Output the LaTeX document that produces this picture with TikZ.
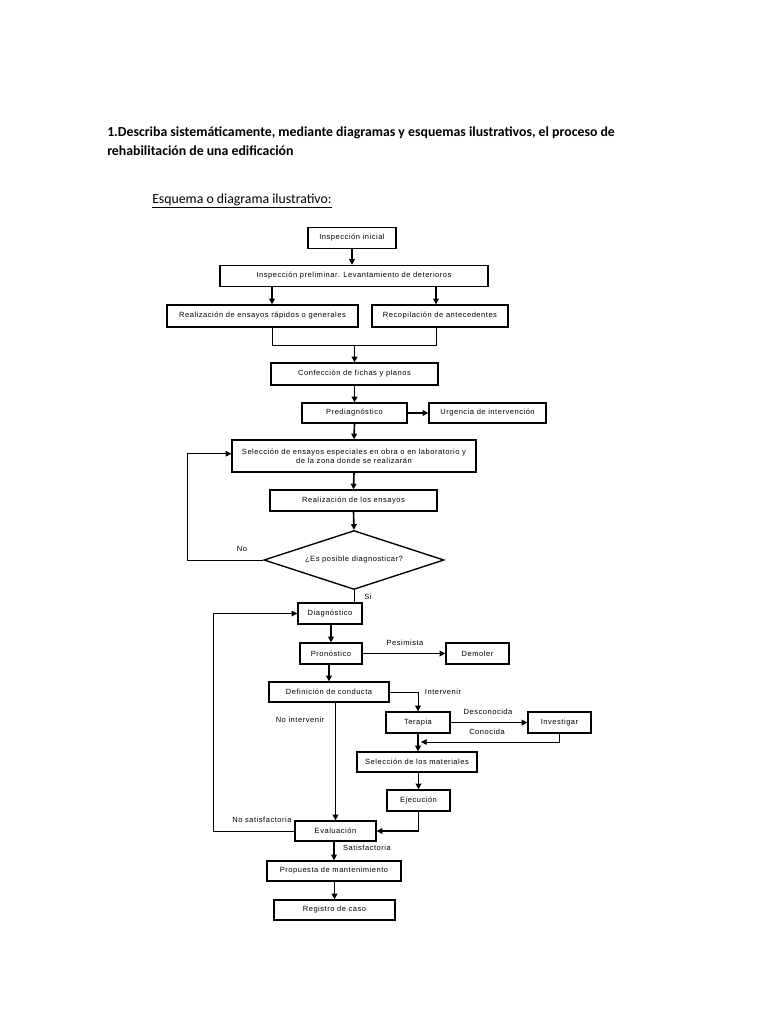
\documentclass[tikz,border=0pt]{standalone}
\usepackage{fontspec}
\setmainfont{Carlito}
\newfontfamily\arialfont[LetterSpace=7]{Liberation Sans}
\usepackage{tikz}
\usetikzlibrary{shapes.geometric,arrows.meta}

\begin{document}
\begin{tikzpicture}[x=0.797pt, y=-0.797pt,
	box/.style={draw, line width=1.1pt, inner sep=0, font=\arialfont\fontsize{6}{7.4}\selectfont},
	lbl/.style={inner sep=0, font=\arialfont\fontsize{6}{7.4}\selectfont},
	arr/.style={line width=1.3pt, -{Triangle[length=4.5pt, width=4.5pt]}},
	arrthin/.style={line width=0.6pt, -{Triangle[length=4.5pt, width=4.5pt]}},
	wire/.style={line width=0.6pt}]
	\useasboundingbox (0,0) rectangle (768,1024);
	% Texts above the chart:
	\node[anchor=base west, inner sep=0, font=\fontsize{11}{13}\selectfont\bfseries] (Title1) at (107,136) {1.Describa sistemáticamente, mediante diagramas y esquemas ilustrativos, el proceso de};
	\node[anchor=base west, inner sep=0, font=\fontsize{11}{13}\selectfont\bfseries] (Title2) at (107,155) {rehabilitación de una edificación};
	\node[anchor=base west, inner sep=0, font=\fontsize{11}{13}\selectfont] (Sub1) at (152,203) {\underline{Esquema o diagrama ilustrativo:}};
	% Boxes:
	\node[box, minimum width=70.1pt, minimum height=16.7pt] (Box1) at (352,238) {Inspección inicial};
	\node[box, minimum width=213.6pt, minimum height=16.7pt] (Box2) at (354,276) {Inspección preliminar. Levantamiento de deterioros};
	\node[box, minimum width=152.2pt, minimum height=17.5pt] (Box3) at (262.5,316) {Realización de ensayos rápidos o generales};
	\node[box, minimum width=108.4pt, minimum height=17.5pt] (Box4) at (440,316) {Recopilación de antecedentes};
	\node[box, minimum width=133.1pt, minimum height=17.5pt] (Box5) at (354.5,374) {Confección de fichas y planos};
	\node[box, minimum width=83.7pt, minimum height=15.9pt] (Box6) at (354.5,413) {Prediagnóstico};
	\node[box, minimum width=93.2pt, minimum height=15.9pt] (Box7) at (487.5,413) {Urgencia de intervención};
	\node[box, minimum width=194.5pt, minimum height=25.5pt, align=center] (Box8) at (354,456) {Selección de ensayos especiales en obra o en laboratorio y\\de la zona donde se realizarán};
	\node[box, minimum width=133.1pt, minimum height=16.7pt] (Box9) at (353.5,500.5) {Realización de los ensayos};
	\node[box, shape=diamond, aspect=3, minimum width=143.5pt, minimum height=47pt] (Dia1) at (354,560) {¿Es posible diagnosticar?};
	\node[box, minimum width=51pt, minimum height=16.7pt] (Box11) at (330,613.5) {Diagnóstico};
	\node[box, minimum width=49.4pt, minimum height=16.7pt] (Box12) at (331,653.5) {Pronóstico};
	\node[box, minimum width=50.2pt, minimum height=16.7pt] (Box13) at (477.5,653.5) {Demoler};
	\node[box, minimum width=95.6pt, minimum height=15.9pt] (Box14) at (329,692) {Definición de conducta};
	\node[box, minimum width=51pt, minimum height=16.7pt] (Box15) at (418,722.5) {Terapia};
	\node[box, minimum width=50.2pt, minimum height=16.7pt] (Box16) at (559.5,722.5) {Investigar};
	\node[box, minimum width=95.6pt, minimum height=15.9pt] (Box17) at (417,762) {Selección de los materiales};
	\node[box, minimum width=50.2pt, minimum height=16.7pt] (Box18) at (418.5,800.5) {Ejecución};
	\node[box, minimum width=64.6pt, minimum height=15.9pt] (Box19) at (335.5,831) {Evaluación};
	\node[box, minimum width=106.8pt, minimum height=15.9pt] (Box20) at (334,871) {Propuesta de mantenimiento};
	\node[box, minimum width=96.4pt, minimum height=15.9pt] (Box21) at (334.5,910) {Registro de caso};
	% Corner points:
	\coordinate (M1) at (272,345);
	\coordinate (M2) at (436,345);
	\coordinate (L1) at (187,560);
	\coordinate (L2) at (213,831);
	\coordinate (C1) at (421,742);
	% Connectors:
	\draw[arr] (Box1.south) -- (Box1.south |- Box2.north);
	\draw[arr] (Box2.south -| M1) -- (Box3.north -| M1);
	\draw[arr] (Box2.south -| M2) -- (Box4.north -| M2);
	\draw[wire] (Box3.south -| M1) -- (M1) -- (M2) -- (Box4.south -| M2);
	\draw[arr] (Box5.north |- M1) -- (Box5.north);
	\draw[arr] (Box5.south) -- (Box6.north);
	\draw[arr] (Box6.east) -- (Box7.west);
	\draw[arr] (Box6.south) -- (Box8.north);
	\draw[arr] (Box8.south) -- (Box9.north);
	\draw[arr] (Box9.south) -- (Dia1.north);
	\draw[arrthin] (Dia1.west) -- (L1) |- ([yshift=1.8pt]Box8.west);
	\draw[wire] (Dia1.south) -- (Dia1.south |- Box11.north);
	\draw[arrthin] (Box19.west) -- (L2) |- (Box11.west);
	\draw[arr] (Box11.south -| Box12.north) -- (Box12.north);
	\draw[arr] (Box12.east) -- (Box13.west);
	\draw[arr] (Box12.south -| Box14.north) -- (Box14.north);
	\draw[arr] (Box14.south -| Box19.north) -- (Box19.north);
	\draw[arrthin] (Box14.east) -| (Box15.north);
	\draw[arr] (Box15.east) -- (Box16.west);
	\draw[arrthin] (Box16.south) |- (C1);
	\draw[arr] (Box15.south) -- (Box15.south |- Box17.north);
	\draw[arr] (Box17.south -| Box18.north) -- (Box18.north);
	\draw[arrthin, line width=0.9pt] (Box18.south) |- (Box19.east);
	\draw[arr] (Box19.south -| Box20.north) -- (Box20.north);
	\draw[arr] (Box20.south -| Box21.north) -- (Box21.north);
	% Connector labels:
	\node[lbl] (Lab1) at (242,549) {No};
	\node[lbl] (Lab2) at (368,597) {Si};
	\node[lbl] (Lab3) at (405,643) {Pesimista};
	\node[lbl] (Lab4) at (443,692) {Intervenir};
	\node[lbl] (Lab5) at (300,720) {No intervenir};
	\node[lbl] (Lab6) at (488,712) {Desconocida};
	\node[lbl] (Lab7) at (487,732) {Conocida};
	\node[lbl] (Lab8) at (262,820) {No satisfactoria};
	\node[lbl] (Lab9) at (367,848) {Satisfactoria};
\end{tikzpicture}
\end{document}
